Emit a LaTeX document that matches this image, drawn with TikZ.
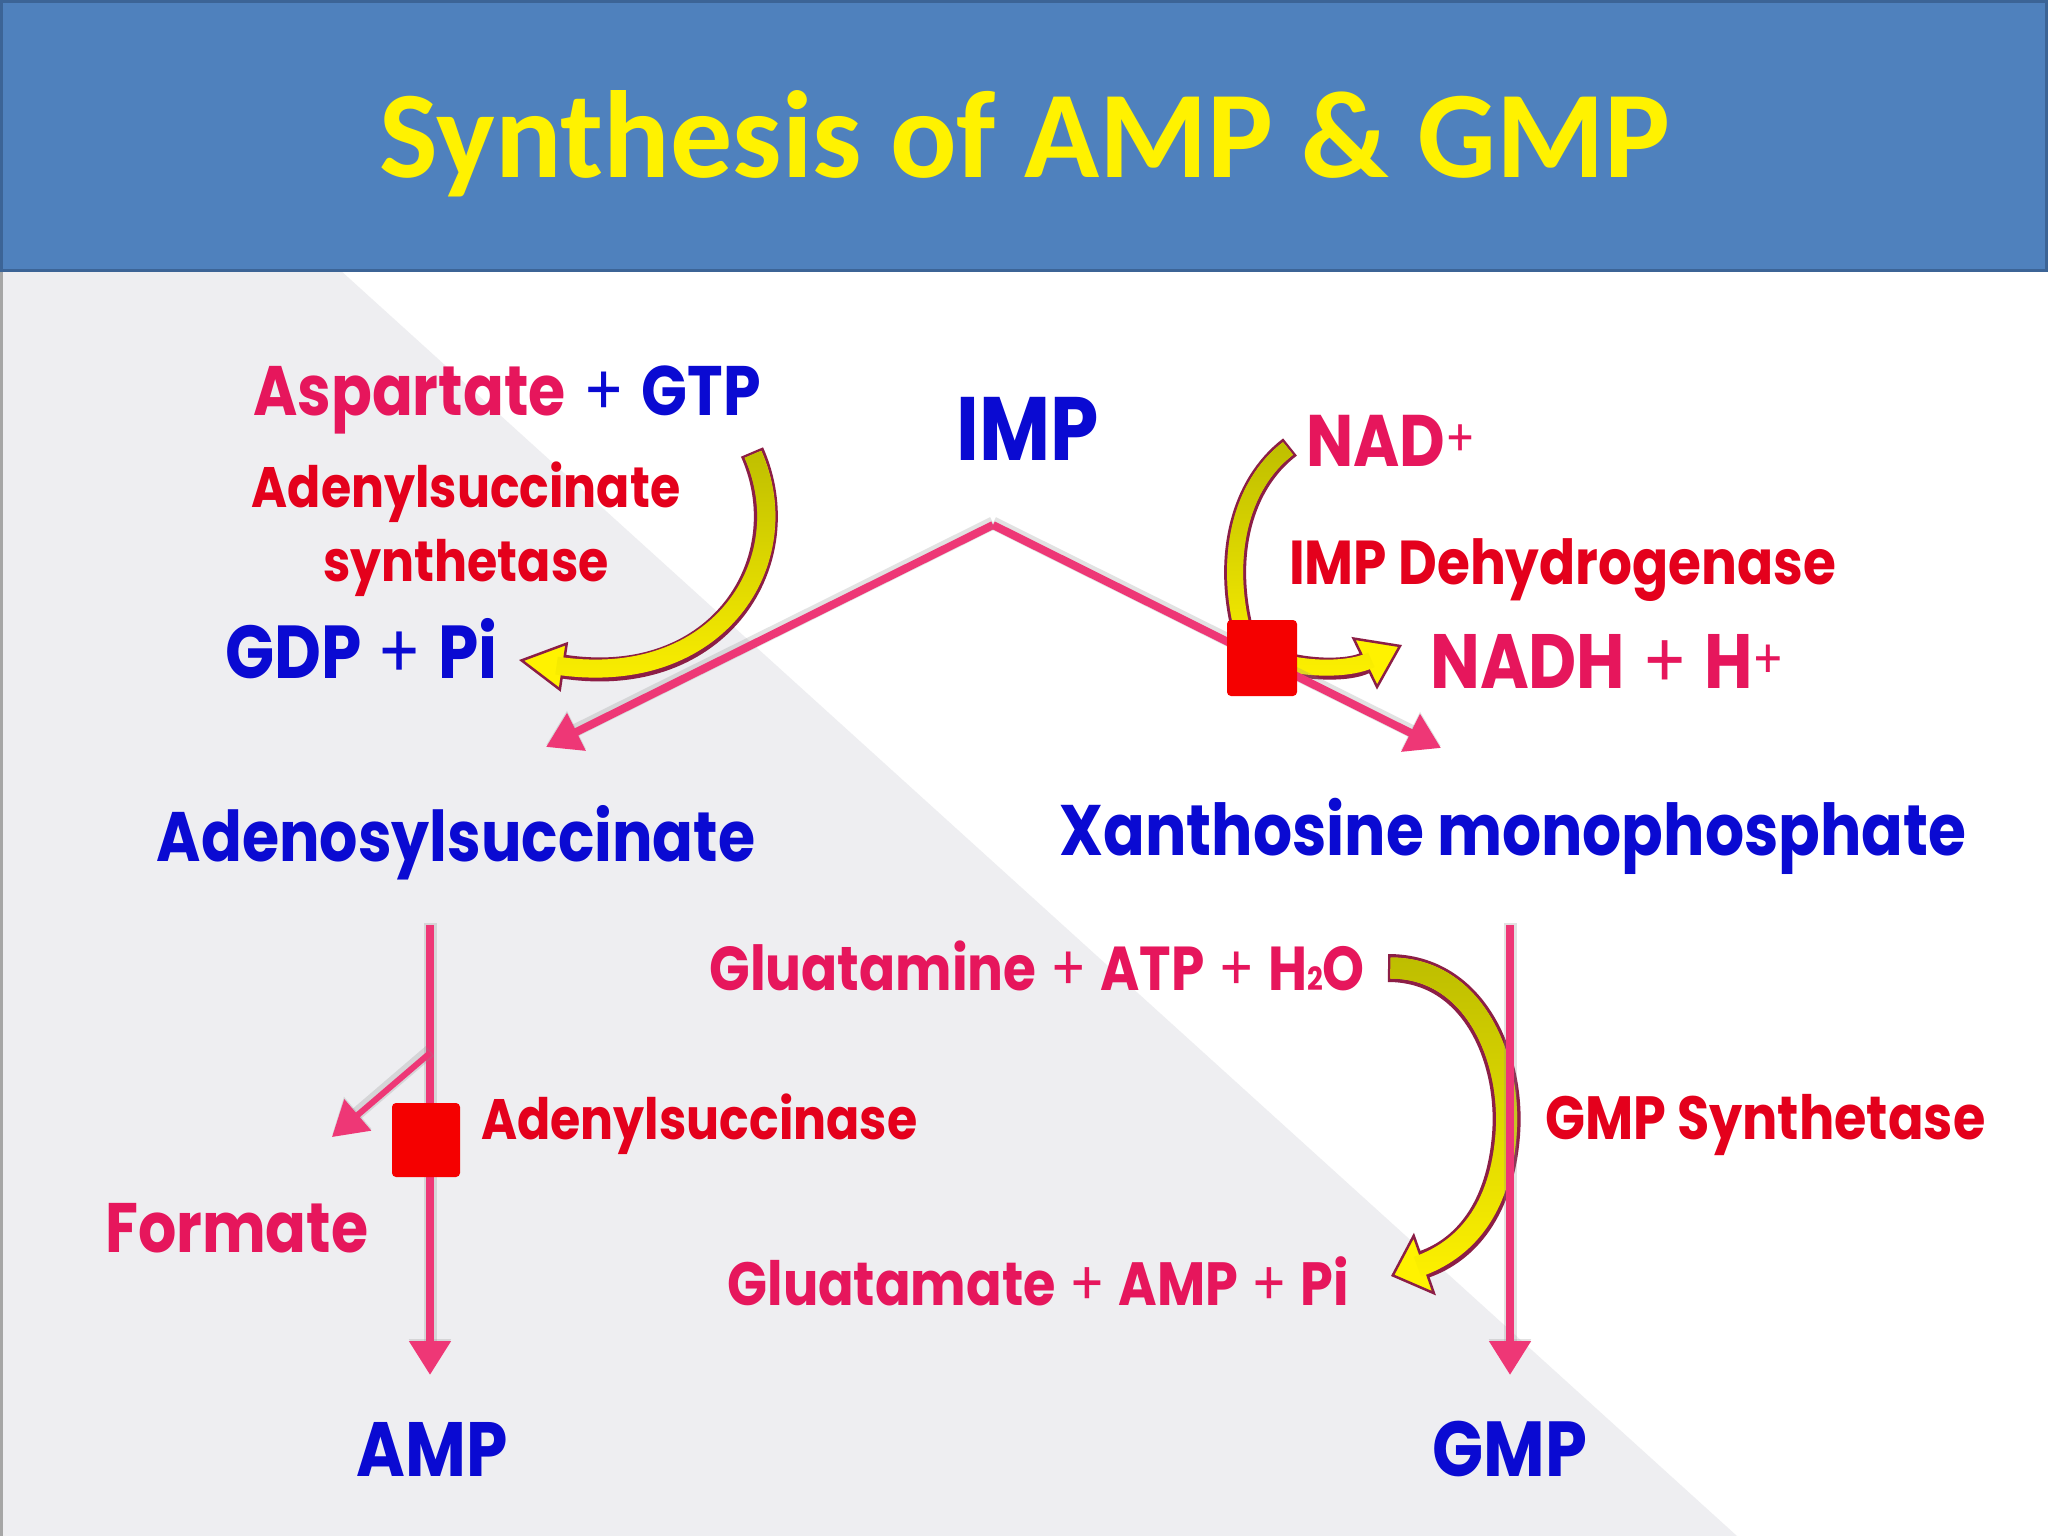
\documentclass[tikz,border=0pt]{standalone}
\usepackage{fontspec}
\setmainfont{Carlito}
\newfontfamily\geo{Poppins}[FakeStretch=0.86]
\usetikzlibrary{arrows.meta,positioning,fadings}

\definecolor{hdrblue}{HTML}{4F81BD}
\definecolor{hdredge}{HTML}{3C6496}
\definecolor{bgray}{HTML}{EEEEF1}
\definecolor{metblue}{RGB}{10,10,210}
\definecolor{rgtpink}{RGB}{230,22,92}
\definecolor{enzred}{RGB}{228,0,28}
\definecolor{flowpink}{RGB}{238,55,118}
\definecolor{boxred}{RGB}{245,0,0}
\definecolor{arroweg}{RGB}{140,30,70}
\definecolor{arrowol}{RGB}{190,190,0}

\newcommand{\fsz}[1]{\fontsize{#1}{#1}\selectfont}
\newcommand{\pl}{\hspace{0.22em}{\mdseries +}\hspace{0.22em}}
% outer width, inner width, tip length, tip width, path
\newcommand{\bentarrow}[5]{%
  \draw[arroweg, line width=#1, -{Triangle[length=#3, width=#4, fill=yellow, line width=2.5pt]}] #5;
  \draw[yellow, line width=#2, shorten <=2.5pt, shorten >=#3-8pt] #5;
  \draw[arrowol, line width=#2, shorten <=2.5pt, shorten >=#3-8pt, path fading=south] #5;
}

\tikzset{
  metab/.style={text=metblue, font=\geo\bfseries\fsz{#1}, inner sep=0pt},
  rgt/.style={text=rgtpink, font=\geo\bfseries\fsz{#1}, inner sep=0pt},
  enz/.style={text=enzred, font=\geo\bfseries\fsz{#1}, inner sep=0pt},
  flow/.style={draw=flowpink, line width=8pt, -{Triangle[length=34pt,width=40pt]},
    preaction={draw=black!45, opacity=.25, line width=13pt, transform canvas={shift={(0pt,2pt)}}}},
  enzbox/.style={fill=boxred, rounded corners=4pt, inner sep=0pt}
}

\begin{document}
\begin{tikzpicture}[x=1pt,y=-1pt]
\useasboundingbox (0,0) rectangle (2048,1536);
% background
\fill[white] (0,0) rectangle (2048,1536);
\fill[bgray] (0,270) -- (340,270) -- (1737,1536) -- (0,1536) -- cycle;
\draw[black!35, line width=3pt] (1.5,270) -- (1.5,1536);
\fill[hdrblue] (0,0) rectangle (2048,270);
\draw[hdredge, line width=3pt] (1.5,1.5) rectangle (2046.5,270);
\node[font=\bfseries\fsz{124}, text=yellow, anchor=base, inner sep=0pt] (title) at (1025,178) {Synthesis of AMP \& GMP};

% yellow cofactor arrows
\bentarrow{24pt}{18pt}{46pt}{50pt}{(752,452) .. controls (800,560) and (720,690) .. (519,660)}
\bentarrow{22pt}{16pt}{42pt}{58pt}{(1290,447) .. controls (1240,485) and (1222,560) .. (1245,640) .. controls (1262,668) and (1340,675) .. (1402,645)}
\bentarrow{28pt}{21pt}{36pt}{66pt}{(1388,968) .. controls (1475,968) and (1512,1060) .. (1506,1135) .. controls (1500,1210) and (1465,1250) .. (1391,1276)}

% main pathway
\coordinate (top) at (993,525);
\coordinate (adoEnd) at (546,747);
\coordinate (xmpEnd) at (1441,748);
\coordinate (adoOut) at (430,925);
\coordinate (fork) at (430,1053);
\coordinate (frmEnd) at (332,1137);
\coordinate (ampEnd) at (430,1375);
\coordinate (xmpOut) at (1510,925);
\coordinate (gmpEnd) at (1510,1375);
\draw[flow] (top) -- (adoEnd);
\draw[flow] (top) -- (xmpEnd);
\draw[flow] (adoOut) -- (ampEnd);
\draw[flow, line width=6pt] (fork) -- (frmEnd);
\draw[flow] (xmpOut) -- (gmpEnd);

\node[enzbox, minimum width=70pt, minimum height=76pt] (impdh) at (1262,658) {};
\node[enzbox, minimum width=68pt, minimum height=74pt] (adsl) at (426,1140) {};

% labels
\node[rgt=70, anchor=base] (asp) at (507,415) {Aspartate\textcolor{metblue}{\hspace{0.03em}\pl\hspace{0.03em}GTP}};
\node[metab=90, anchor=base] (imp) at (1028,460) {IMP};
\node[rgt=73, anchor=base west] (nad) at (1306,466) {NAD\textsuperscript{\mdseries +}};
\node[enz=57, anchor=base] (adss1) at (466,507) {Adenylsuccinate};
\node[enz=57, anchor=base] (adss2) at (466,581) {synthetase};
\node[enz=62, anchor=base west] (impdhlab) at (1289,584) {IMP Dehydrogenase};
\node[metab=75, anchor=base west] (gdp) at (225,678) {GDP\pl Pi};
\node[rgt=77, anchor=base west] (nadh) at (1430,688) {NADH\pl H\textsuperscript{\mdseries +}};
\node[metab=70, anchor=base] (ado) at (456,861) {Adenosylsuccinate};
\node[metab=71.5, anchor=base] (xmp) at (1513,855) {Xanthosine monophosphate};
\node[rgt=62, anchor=base east] (gln) at (1365,990) {Gluatamine\pl ATP\pl H{\fsz{32}2}O};
\node[enz=57, anchor=base west] (adsllab) at (481,1139) {Adenylsuccinase};
\node[enz=61, anchor=base west] (gmpslab) at (1545,1139) {GMP Synthetase};
\node[rgt=70, anchor=base west] (frm) at (105,1252) {Formate};
\node[rgt=61, anchor=base east] (glu) at (1349,1305) {Gluatamate\pl AMP\pl Pi};
\node[metab=77, anchor=base] (amp) at (432,1476) {AMP};
\node[metab=78, anchor=base] (gmp) at (1510,1476) {GMP};
\end{tikzpicture}
\end{document}
